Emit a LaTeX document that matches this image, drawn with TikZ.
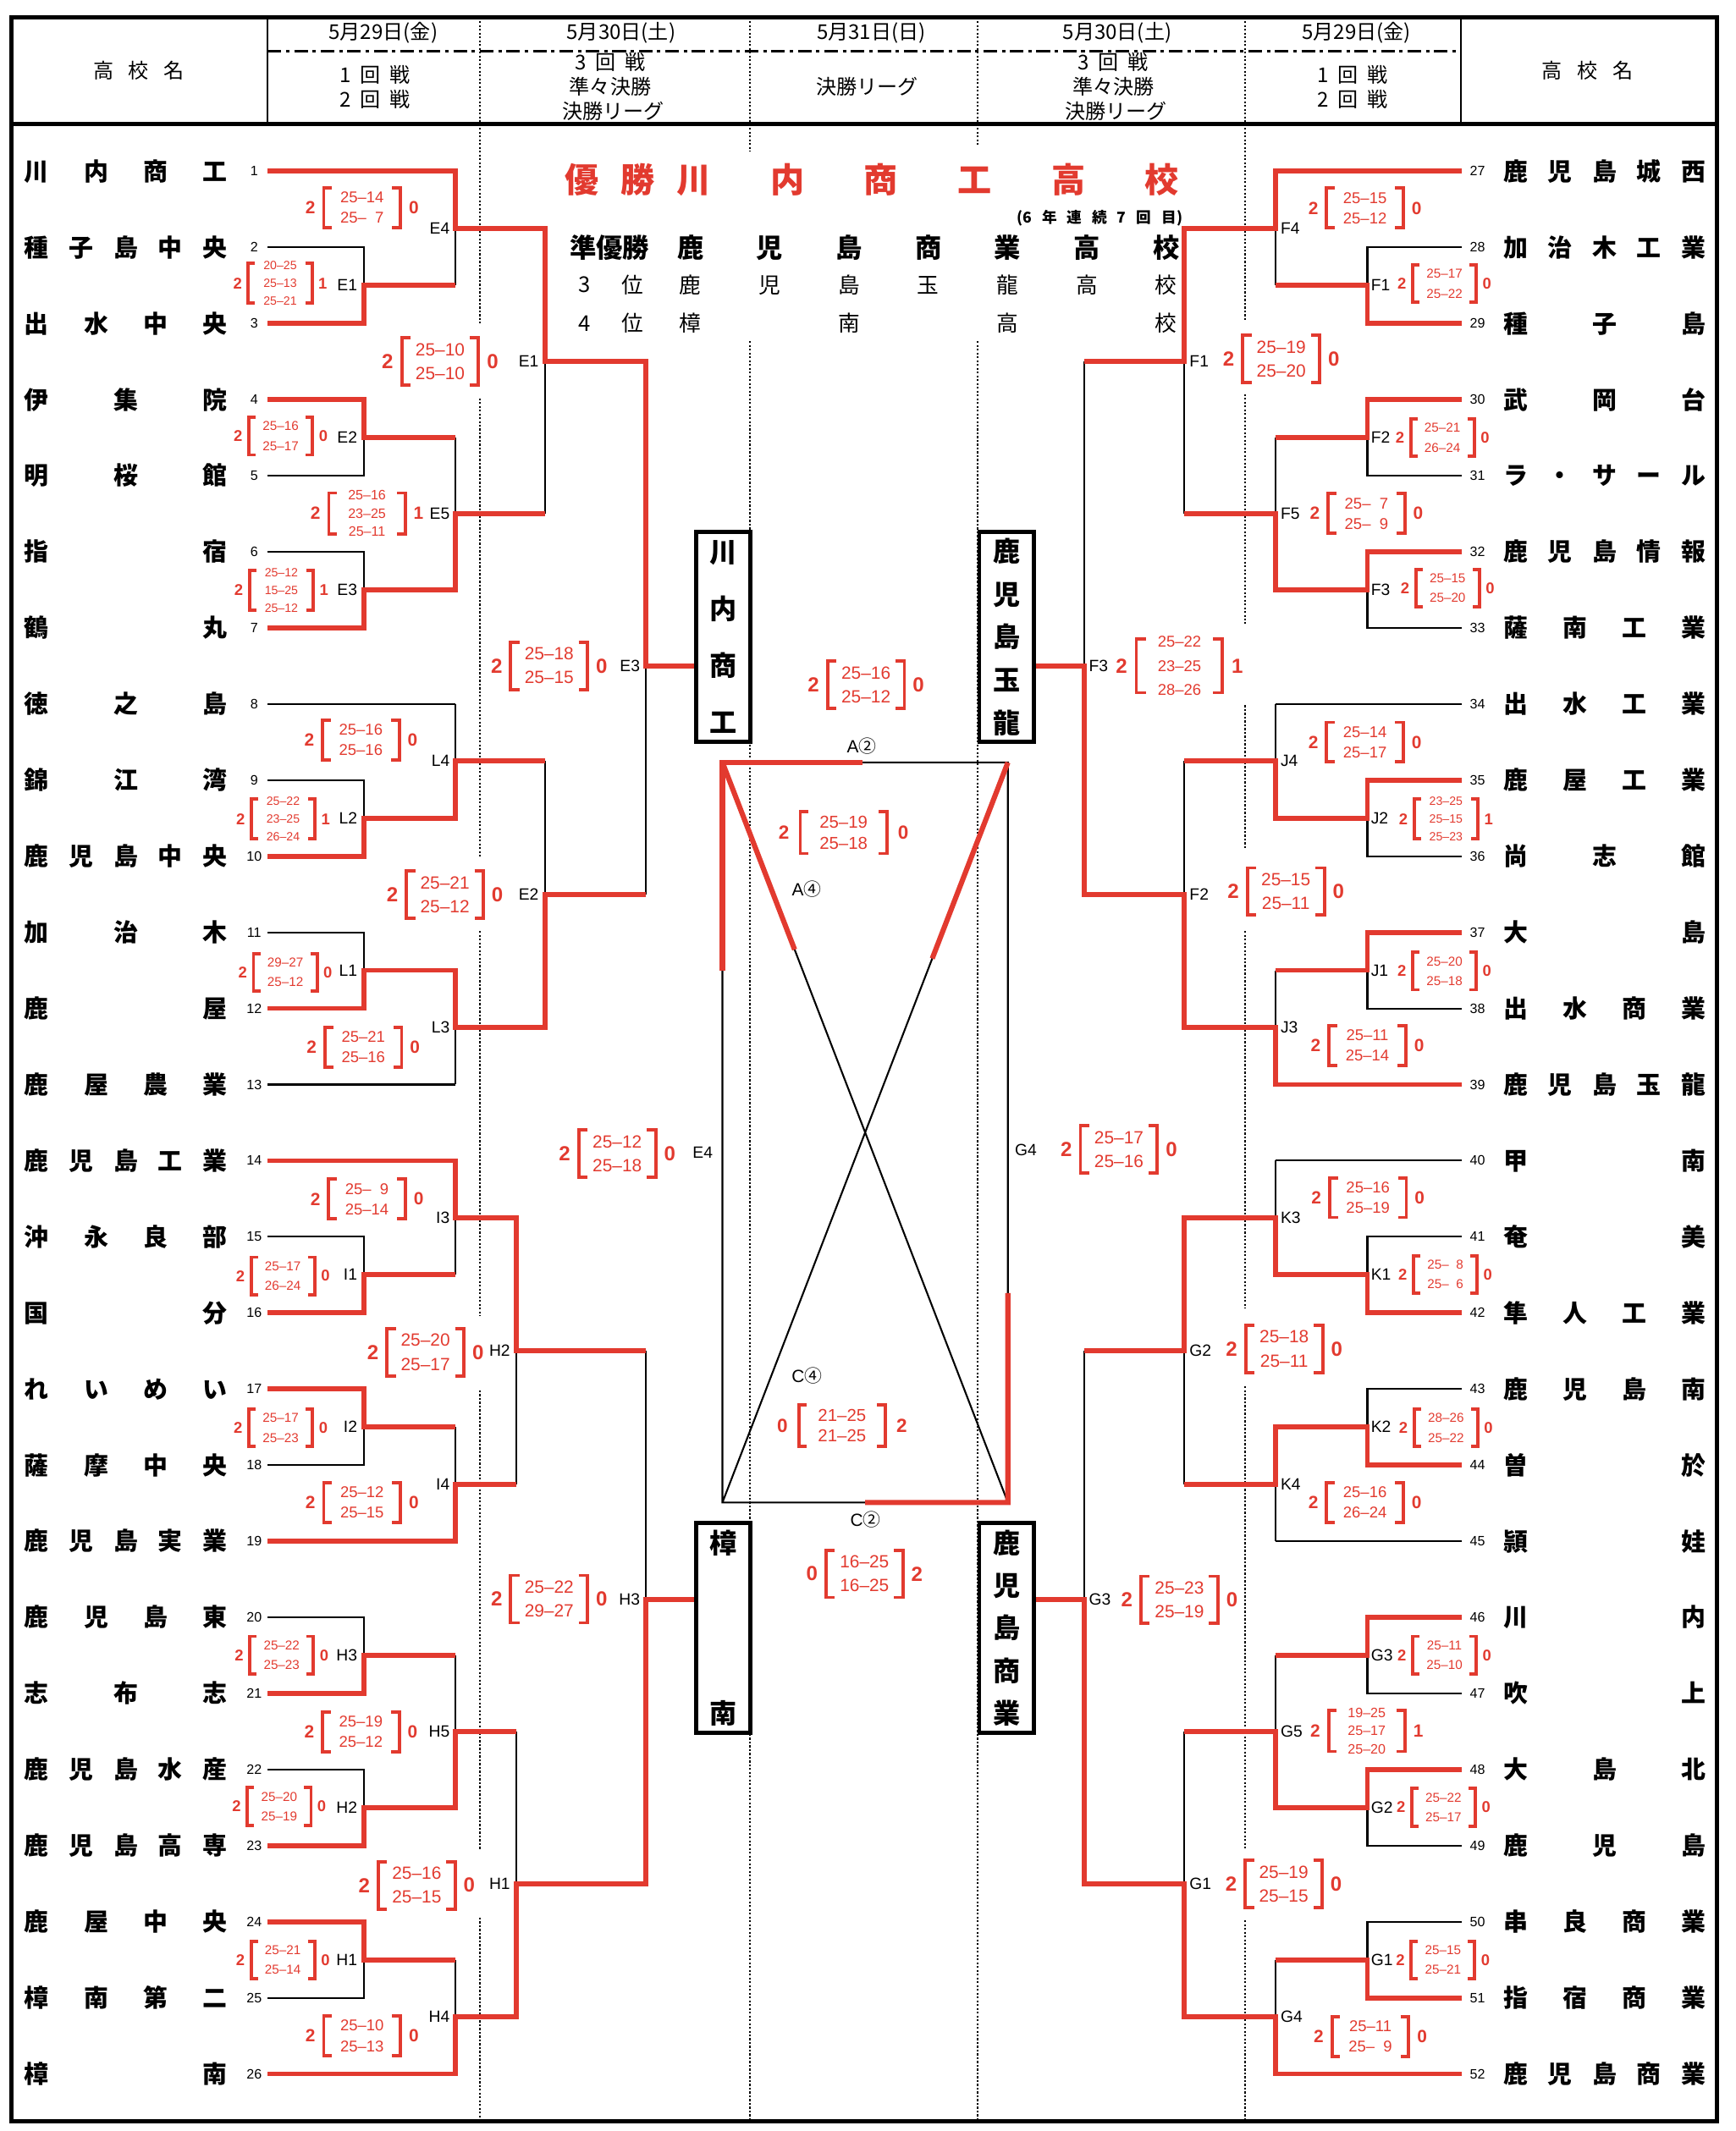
\documentclass[tikz,border=0pt]{standalone}
\usepackage{fontspec}
\setmainfont{Noto Sans CJK JP}
\newfontfamily\lat{Liberation Sans}
\usepackage{xcolor}
\definecolor{brRed}{HTML}{E23A2F}
\usetikzlibrary{positioning,calc}

\tikzset{
  brh/.store in=\brh, brw/.store in=\brw, brh=15, brw=6,
  brk/.style={draw=brRed, line width=2.4pt},
  scbase/.style={text=brRed, align=center, inner ysep=0pt},
  nmbase/.style={text=brRed, inner sep=0pt},
  sctiny/.style={brh=14.6, brw=5,
    sctext/.style={scbase, inner xsep=11pt, font=\lat\fontsize{8.8}{13}\selectfont},
    scnum/.style={nmbase, node distance=4.5pt, font=\lat\bfseries\fontsize{11.5}{11.5}\selectfont}},
  scsmall/.style={brh=13.8, brw=5,
    sctext/.style={scbase, inner xsep=10pt, font=\lat\fontsize{9.5}{14.5}\selectfont},
    scnum/.style={nmbase, node distance=4.5pt, font=\lat\bfseries\fontsize{11.5}{11.5}\selectfont}},
  scmidt/.style={brh=15.1, brw=6,
    sctext/.style={scbase, inner xsep=14pt, font=\lat\fontsize{10}{13.3}\selectfont},
    scnum/.style={nmbase, node distance=6pt, font=\lat\bfseries\fontsize{13}{13}\selectfont}},
  scmid/.style={brh=14.6, brw=6,
    sctext/.style={scbase, inner xsep=12pt, font=\lat\fontsize{11.5}{15}\selectfont},
    scnum/.style={nmbase, node distance=6pt, font=\lat\bfseries\fontsize{13}{13}\selectfont}},
  scbig/.style={brh=17.4, brw=6.5,
    sctext/.style={scbase, inner xsep=10pt, font=\lat\fontsize{13}{17.5}\selectfont},
    scnum/.style={nmbase, node distance=6pt, font=\lat\bfseries\fontsize{15}{15}\selectfont}},
  scqf/.style={brh=19.8, brw=7,
    sctext/.style={scbase, inner xsep=15.5pt, font=\lat\fontsize{11.5}{18}\selectfont},
    scnum/.style={nmbase, node distance=6.5pt, font=\lat\bfseries\fontsize{15}{15}\selectfont}},
  scx/.style={brh=15.3, brw=6,
    sctext/.style={scbase, inner xsep=14pt, font=\lat\fontsize{12.7}{15.4}\selectfont},
    scnum/.style={nmbase, node distance=8pt, font=\lat\bfseries\fontsize{14}{14}\selectfont}},
}

% score block: size, name, position, left sets, lines, right sets
\newcommand{\score}[6]{%
  \begin{scope}[#1]
    \node[sctext] (#2) at (#3) {#5};
    \draw[brk] ($(#2.west)+(\brw,-\brh)$) -- ($(#2.west)+(0,-\brh)$) -- ($(#2.west)+(0,\brh)$) -- ($(#2.west)+(\brw,\brh)$);
    \draw[brk] ($(#2.east)+(-\brw,-\brh)$) -- ($(#2.east)+(0,-\brh)$) -- ($(#2.east)+(0,\brh)$) -- ($(#2.east)+(-\brw,\brh)$);
    \node[scnum, left=of #2] (#2-l) {#4};
    \node[scnum, right=of #2] (#2-r) {#6};
  \end{scope}}

\begin{document}
\begin{tikzpicture}[x=1pt, y=-1pt,
    ln/.style={line width=1.3pt},
    win/.style={line width=3.6pt, brRed, line join=miter},
    frame/.style={line width=3pt},
    dotv/.style={line width=1.4pt, dash pattern=on 1.4pt off 1.4pt},
    dashdot/.style={line width=1.6pt, dash pattern=on 10pt off 3.5pt on 2.5pt off 3.5pt},
    hd/.style={font=\fontsize{15}{15}\selectfont, inner sep=0pt},
    team/.style={font=\bfseries\fontsize{18}{18}\selectfont, inner sep=0pt},
    tno/.style={font=\lat\fontsize{10}{10}\selectfont, inner sep=0pt},
    mlab/.style={font=\lat\fontsize{12}{12}\selectfont, inner sep=0pt},
    fbox/.style={draw, fill=white, line width=3pt, minimum width=40pt, minimum height=154.7pt, inner sep=0pt, align=center}
  ]
  \useasboundingbox (0,0) rectangle (1277,1568);

  % dotted day separators
  \foreach \x/\ya/\yb in {353/12.9/238, 353/293/630, 353/685/968, 353/1023/1361, 353/1411/1561,
      916/12.9/236, 916/290/458.7, 916/519/625, 916/685/963, 916/1020/1360, 916/1413/1561,
      551.5/12.9/111, 551.5/251/1561, 719/12.9/108, 719/251/1561}
    \draw[dotv] (\x,\ya) -- (\x,\yb);

  % frame and header
  \draw[frame] (8.2,12.9) rectangle (1263,1561);
  \draw[frame] (8.2,91.3) -- (1263,91.3);
  \draw[ln] (197,12.9) -- (197,91.3) (1075,12.9) -- (1075,91.3);
  \draw[dashdot] (197,37.8) -- (1075,37.8);
  \node[hd] (hNameL) at (102,52) {\makebox[67pt][s]{高 校 名}};
  \node[hd] (hNameR) at (1168,52) {\makebox[67pt][s]{高 校 名}};
  \node[hd] (hD1) at (282,24) {5月29日(金)};
  \node[hd] (hD2) at (457,24) {5月30日(土)};
  \node[hd] (hD3) at (641,24) {5月31日(日)};
  \node[hd] (hD4) at (822,24) {5月30日(土)};
  \node[hd] (hD5) at (998,24) {5月29日(金)};
  \node[hd] (hR1a) at (276,55) {\makebox[52pt][s]{1 回 戦}};
  \node[hd] (hR1b) at (276,73) {\makebox[52pt][s]{2 回 戦}};
  \node[hd] (hR2a) at (449,46) {\makebox[52pt][s]{3 回 戦}};
  \node[hd] (hR2b) at (449,64) {準々決勝};
  \node[hd] (hR2c) at (451,82) {決勝リーグ};
  \node[hd] (hR3) at (638,64) {決勝リーグ};
  \node[hd] (hR4a) at (819,46) {\makebox[52pt][s]{3 回 戦}};
  \node[hd] (hR4b) at (819,64) {準々決勝};
  \node[hd] (hR4c) at (821,82) {決勝リーグ};
  \node[hd] (hR5a) at (995,55) {\makebox[52pt][s]{1 回 戦}};
  \node[hd] (hR5b) at (995,73) {\makebox[52pt][s]{2 回 戦}};

  % teams
  \foreach \nm [count=\i] in {川 内 商 工, 種 子 島 中 央, 出 水 中 央, 伊 集 院, 明 桜 館, 指 宿, 鶴 丸,
      徳 之 島, 錦 江 湾, 鹿 児 島 中 央, 加 治 木, 鹿 屋, 鹿 屋 農 業, 鹿 児 島 工 業, 沖 永 良 部, 国 分,
      れ い め い, 薩 摩 中 央, 鹿 児 島 実 業, 鹿 児 島 東, 志 布 志, 鹿 児 島 水 産, 鹿 児 島 高 専,
      鹿 屋 中 央, 樟 南 第 二, 樟 南} {
    \node[team] (tl\i) at (92.5,{126+56*(\i-1)}) {\makebox[149pt][s]{\nm}};
    \node[tno] (nl\i) at (187,{126+56*(\i-1)}) {\i};
  }
  \foreach \nm [count=\i from 27] in {鹿 児 島 城 西, 加 治 木 工 業, 種 子 島, 武 岡 台, ラ ・ サ ー ル,
      鹿 児 島 情 報, 薩 南 工 業, 出 水 工 業, 鹿 屋 工 業, 尚 志 館, 大 島, 出 水 商 業, 鹿 児 島 玉 龍,
      甲 南, 奄 美, 隼 人 工 業, 鹿 児 島 南, 曽 於, 頴 娃, 川 内, 吹 上, 大 島 北, 鹿 児 島,
      串 良 商 業, 指 宿 商 業, 鹿 児 島 商 業} {
    \node[team] (tr\i) at (1180.5,{126+56*(\i-27)}) {\makebox[149pt][s]{\nm}};
    \node[tno] (nr\i) at (1087,{126+56*(\i-27)}) {\i};
  }

  % bracket lines, left half
  \foreach \t in {1,8,13,14,19,26}
    \draw[ln] (197,{126+56*(\t-1)}) -- (335,{126+56*(\t-1)});
  \foreach \t in {2,4,6,9,11,15,17,20,22,24} {
    \pgfmathsetmacro\ya{126+56*(\t-1)}
    \draw[ln] (197,\ya) -- (268,\ya) -- (268,{\ya+56}) -- (197,{\ya+56});
    \draw[ln] (268,{\ya+28}) -- (335,{\ya+28});
  }
  \foreach \ya/\yb/\x in {126/210/401, 322/434/401, 518/602/401, 714/798/401,
      854/938/380, 1050/1134/380, 1218/1330/380, 1442/1526/380} {
    \draw[ln] (335,\ya) -- (335,\yb);
    \draw[ln] (335,{(\ya+\yb)/2}) -- (\x,{(\ya+\yb)/2});
  }
  \foreach \x/\ya/\yb/\ym in {401/168/378/266, 401/560/756/658, 380/896/1092/994, 380/1274/1484/1386} {
    \draw[ln] (\x,\ya) -- (\x,\yb);
    \draw[ln] (\x,\ym) -- (475,\ym);
  }
  \draw[ln] (475,266) -- (475,658) (475,490) -- (512,490);
  \draw[ln] (475,994) -- (475,1386) (475,1177) -- (512,1177);

  % bracket lines, right half
  \foreach \t in {27,34,39,40,45,52}
    \draw[ln] (1075.6,{126+56*(\t-27)}) -- (938.6,{126+56*(\t-27)});
  \foreach \t in {28,30,32,35,37,41,43,46,48,50} {
    \pgfmathsetmacro\ya{126+56*(\t-27)}
    \draw[ln] (1075.6,\ya) -- (1006,\ya) -- (1006,{\ya+56}) -- (1075.6,{\ya+56});
    \draw[ln] (1006,{\ya+28}) -- (938.6,{\ya+28});
  }
  \foreach \ya/\yb in {126/210, 322/434, 518/602, 714/798, 854/938, 1050/1134, 1218/1330, 1442/1526} {
    \draw[ln] (938.6,\ya) -- (938.6,\yb);
    \draw[ln] (938.6,{(\ya+\yb)/2}) -- (871.4,{(\ya+\yb)/2});
  }
  \foreach \ya/\yb/\ym in {168/378/266, 560/756/658, 896/1092/994, 1274/1484/1386} {
    \draw[ln] (871.4,\ya) -- (871.4,\yb);
    \draw[ln] (871.4,\ym) -- (797.6,\ym);
  }
  \draw[ln] (797.6,266) -- (797.6,658) (797.6,490) -- (761,490);
  \draw[ln] (797.6,994) -- (797.6,1386) (797.6,1177) -- (761,1177);

  % winners, left
  \draw[win] (197,126) -- (335,126) -- (335,168) -- (401,168) -- (401,266) -- (475,266) -- (475,490) -- (512,490);
  \draw[win] (197,238) -- (268,238) -- (268,210) -- (335,210);
  \draw[win] (197,294) -- (268,294) -- (268,322) -- (335,322);
  \draw[win] (197,462) -- (268,462) -- (268,434) -- (335,434) -- (335,378) -- (401,378);
  \draw[win] (197,630) -- (268,630) -- (268,602) -- (335,602) -- (335,560) -- (401,560);
  \draw[win] (197,742) -- (268,742) -- (268,714) -- (335,714) -- (335,756) -- (401,756) -- (401,658) -- (475,658);
  \draw[win] (197,854) -- (335,854) -- (335,896) -- (380,896) -- (380,994) -- (475,994);
  \draw[win] (197,966) -- (268,966) -- (268,938) -- (335,938);
  \draw[win] (197,1022) -- (268,1022) -- (268,1050) -- (335,1050);
  \draw[win] (197,1134) -- (335,1134) -- (335,1092) -- (380,1092);
  \draw[win] (197,1246) -- (268,1246) -- (268,1218) -- (335,1218);
  \draw[win] (197,1358) -- (268,1358) -- (268,1330) -- (335,1330) -- (335,1274) -- (380,1274);
  \draw[win] (197,1414) -- (268,1414) -- (268,1442) -- (335,1442);
  \draw[win] (197,1526) -- (335,1526) -- (335,1484) -- (380,1484) -- (380,1386) -- (475,1386) -- (475,1177) -- (512,1177);

  % winners, right
  \draw[win] (1075.6,126) -- (938.6,126) -- (938.6,168) -- (871.4,168) -- (871.4,266) -- (797.6,266);
  \draw[win] (1075.6,238) -- (1006,238) -- (1006,210) -- (938.6,210);
  \draw[win] (1075.6,294) -- (1006,294) -- (1006,322) -- (938.6,322);
  \draw[win] (1075.6,406) -- (1006,406) -- (1006,434) -- (938.6,434) -- (938.6,378) -- (871.4,378);
  \draw[win] (1075.6,574) -- (1006,574) -- (1006,602) -- (938.6,602) -- (938.6,560) -- (871.4,560);
  \draw[win] (1075.6,686) -- (1006,686) -- (1006,714) -- (938.6,714);
  \draw[win] (1075.6,798) -- (938.6,798) -- (938.6,756) -- (871.4,756) -- (871.4,658) -- (797.6,658) -- (797.6,490) -- (761,490);
  \draw[win] (1075.6,966) -- (1006,966) -- (1006,938) -- (938.6,938) -- (938.6,896) -- (871.4,896) -- (871.4,994) -- (797.6,994);
  \draw[win] (1075.6,1078) -- (1006,1078) -- (1006,1050) -- (938.6,1050) -- (938.6,1092) -- (871.4,1092);
  \draw[win] (1075.6,1190) -- (1006,1190) -- (1006,1218) -- (938.6,1218);
  \draw[win] (1075.6,1302) -- (1006,1302) -- (1006,1330) -- (938.6,1330) -- (938.6,1274) -- (871.4,1274);
  \draw[win] (1075.6,1470) -- (1006,1470) -- (1006,1442) -- (938.6,1442);
  \draw[win] (1075.6,1526) -- (938.6,1526) -- (938.6,1484) -- (871.4,1484) -- (871.4,1386) -- (797.6,1386) -- (797.6,1177) -- (761,1177);

  % final league
  \node[fbox, font=\bfseries\fontsize{20}{41.7}\selectfont] (fSendai) at (532,468.7) {川\\内\\商\\工};
  \node[fbox, font=\bfseries\fontsize{20}{31.7}\selectfont] (fGyokuryu) at (740.5,468.7) {鹿\\児\\島\\玉\\龍};
  \node[fbox, font=\bfseries\fontsize{20}{125}\selectfont] (fShonan) at (532,1197.9) {樟\\南};
  \node[fbox, font=\bfseries\fontsize{20}{31.25}\selectfont] (fKashou) at (740.5,1197.9) {鹿\\児\\島\\商\\業};
  \coordinate (TL) at (531.5,561);
  \coordinate (TR) at (741.5,561);
  \coordinate (BL) at (531.5,1105.5);
  \coordinate (BR) at (741.5,1105.5);
  \draw[ln] (TL) rectangle (BR) (TL) -- (BR) (TR) -- (BL);
  \draw[win, line width=3.8pt] ($(TL)!0.49!(TR)$) -- (TL) -- ($(TL)!0.281!(BL)$);
  \draw[win, line width=3.8pt] (TL) -- ($(TL)!0.253!(BR)$);
  \draw[win, line width=3.8pt] (TR) -- ($(TR)!0.265!(BL)$);
  \draw[win, line width=3.8pt] ($(TR)!0.717!(BR)$) -- (BR) -- ($(BR)!0.5!(BL)$);
  \node[mlab, font=\lat\fontsize{13}{13}\selectfont] (lbA2) at (634,548.7) {A{\normalfont ②}};
  \node[mlab, font=\lat\fontsize{13}{13}\selectfont] (lbA4) at (593.5,654.4) {A{\normalfont ④}};
  \node[mlab, font=\lat\fontsize{13}{13}\selectfont] (lbC4) at (593.6,1012.5) {C{\normalfont ④}};
  \node[mlab, font=\lat\fontsize{13}{13}\selectfont] (lbC2) at (636.8,1117.9) {C{\normalfont ②}};

  % result lines
  \node[font=\bfseries\fontsize{25}{25}\selectfont, text=brRed, inner sep=0pt] (win1a) at (448.5,132) {\makebox[66pt][s]{優 勝}};
  \node[font=\bfseries\fontsize{25}{25}\selectfont, text=brRed, inner sep=0pt] (win1b) at (682.7,132) {\makebox[369.2pt][s]{川 内 商 工 高 校}};
  \node[font=\bfseries\fontsize{11}{11}\selectfont, inner sep=0pt] (win1c) at (809,160.5) {\makebox[122pt][s]{(6 年 連 続 7 回 目)}};
  \node[font=\bfseries\fontsize{19.5}{19.5}\selectfont, inner sep=0pt] (win2a) at (448.5,182) {準優勝};
  \node[font=\bfseries\fontsize{19.5}{19.5}\selectfont, inner sep=0pt] (win2b) at (683,182) {\makebox[369.5pt][s]{鹿 児 島 商 業 高 校}};
  \node[font=\fontsize{16}{16}\selectfont, inner sep=0pt] (win3a) at (430,209.6) {3};
  \node[font=\fontsize{16}{16}\selectfont, inner sep=0pt] (win3b) at (465.6,209.6) {位};
  \node[font=\fontsize{16}{16}\selectfont, inner sep=0pt] (win3c) at (683,209.6) {\makebox[366pt][s]{鹿 児 島 玉 龍 高 校}};
  \node[font=\fontsize{16}{16}\selectfont, inner sep=0pt] (win4a) at (430,237.8) {4};
  \node[font=\fontsize{16}{16}\selectfont, inner sep=0pt] (win4b) at (465.6,237.8) {位};
  \node[font=\fontsize{16}{16}\selectfont, inner sep=0pt] (win4c) at (683,237.8) {\makebox[366pt][s]{樟 南 高 校}};

  % match labels
  \foreach \nm/\t/\x/\y in {mlE4a/E4/331/168, mlE1a/E1/263/210, mlE1b/E1/396.5/266, mlE2a/E2/263/322,
      mlE5/E5/331/378, mlE3a/E3/263/434, mlE3b/E3/471/490, mlL4/L4/331/560, mlL2/L2/263/602,
      mlE2b/E2/396.5/658, mlL1/L1/263/714, mlL3/L3/331/756, mlE4b/E4/524.5/848, mlI3/I3/331/896,
      mlI1/I1/263/938, mlH2b/H2/375.5/994, mlI2/I2/263/1050, mlI4/I4/331/1092, mlH3b/H3/471/1177,
      mlH3a/H3/263/1218, mlH5/H5/331/1274, mlH2a/H2/263/1330, mlH1b/H1/375.5/1386,
      mlH1a/H1/263/1442, mlH4/H4/331/1484}
    \node[mlab, anchor=east] (\nm) at (\x,\y) {\t};
  \foreach \nm/\t/\x/\y in {mrF4/F4/942/168, mrF1a/F1/1008.5/210, mrF1b/F1/875/266, mrF2a/F2/1008.5/322,
      mrF5/F5/942/378, mrF3a/F3/1008.5/434, mrF3b/F3/801/490, mrJ4/J4/942/560, mrJ2/J2/1008.5/602,
      mrF2b/F2/875/658, mrJ1/J1/1008.5/714, mrJ3/J3/942/756, mrG4b/G4/746.5/846, mrK3/K3/942/896,
      mrK1/K1/1008.5/938, mrG2b/G2/875/994, mrK2/K2/1008.5/1050, mrK4/K4/942/1092, mrG3b/G3/801/1177,
      mrG3a/G3/1008.5/1218, mrG5/G5/942/1274, mrG2a/G2/1008.5/1330, mrG1b/G1/875/1386,
      mrG1a/G1/1008.5/1442, mrG4a/G4/942/1484}
    \node[mlab, anchor=west] (\nm) at (\x,\y) {\t};

  % scores, left
  \score{scmid}{lE4r2}{266.4,152.8}{2}{25–14\\25–\hphantom{0}7}{0}
  \score{sctiny}{lE1r1}{206.1,208.4}{2}{20–25\\25–13\\25–21}{1}
  \score{scbig}{lE1r3}{323.8,266}{2}{25–10\\25–10}{0}
  \score{scsmall}{lE2r1}{206.5,320.9}{2}{25–16\\25–17}{0}
  \score{scmidt}{lE5r2}{270,377.8}{2}{25–16\\23–25\\25–11}{1}
  \score{sctiny}{lE3r1}{207,434.3}{2}{25–12\\15–25\\25–12}{1}
  \score{scbig}{lE3qf}{404,489.9}{2}{25–18\\25–15}{0}
  \score{scmid}{lL4r2}{265.5,544.5}{2}{25–16\\25–16}{0}
  \score{sctiny}{lL2r1}{208.3,602.6}{2}{25–22\\23–25\\26–24}{1}
  \score{scbig}{lE2r3}{327.3,658.2}{2}{25–21\\25–12}{0}
  \score{scsmall}{lL1r1}{209.9,715.4}{2}{29–27\\25–12}{0}
  \score{scmid}{lL3r2}{267.3,770.4}{2}{25–21\\25–16}{0}
  \score{scbig}{lE4f}{454.1,848.8}{2}{25–12\\25–18}{0}
  \score{scmid}{lI3r2}{270,882.2}{2}{25–\hphantom{0}9\\25–14}{0}
  \score{scsmall}{lI1r1}{208.1,938.8}{2}{25–17\\26–24}{0}
  \score{scbig}{lH2r3}{313,995}{2}{25–20\\25–17}{0}
  \score{scsmall}{lI2r1}{206.5,1050.6}{2}{25–17\\25–23}{0}
  \score{scmid}{lI4r2}{266.4,1105.5}{2}{25–12\\25–15}{0}
  \score{scbig}{lH3qf}{404,1176.6}{2}{25–22\\29–27}{0}
  \score{scsmall}{lH3r1}{207.2,1217.8}{2}{25–22\\25–23}{0}
  \score{scmid}{lH5r2}{265.5,1274.2}{2}{25–19\\25–12}{0}
  \score{scsmall}{lH2r1}{205.4,1329.2}{2}{25–20\\25–19}{0}
  \score{scbig}{lH1r3}{306.6,1387.2}{2}{25–16\\25–15}{0}
  \score{scsmall}{lH1r1}{208.1,1442.1}{2}{25–21\\25–14}{0}
  \score{scmid}{lH4r2}{266.4,1498}{2}{25–10\\25–13}{0}

  % scores, right
  \score{scmid}{rF4r2}{1004.2,153.1}{2}{25–15\\25–12}{0}
  \score{scsmall}{rF1r1}{1062.7,208.7}{2}{25–17\\25–22}{0}
  \score{scbig}{rF1r3}{942.6,264}{2}{25–19\\25–20}{0}
  \score{scsmall}{rF2r1}{1061.2,322.1}{2}{25–21\\26–24}{0}
  \score{scmid}{rF5r2}{1005.3,377.8}{2}{25–\hphantom{0}7\\25–\hphantom{0}9}{0}
  \score{scsmall}{rF3r1}{1065,432.7}{2}{25–15\\25–20}{0}
  \score{scqf}{rF3qf}{867.7,489.9}{2}{25–22\\23–25\\28–26}{1}
  \score{scmid}{rJ4r2}{1004.2,546.1}{2}{25–14\\25–17}{0}
  \score{sctiny}{rJ2r1}{1063.8,602.6}{2}{23–25\\25–15\\25–23}{1}
  \score{scbig}{rF2r3}{946,656}{2}{25–15\\25–11}{0}
  \score{scsmall}{rJ1r1}{1062.7,714.5}{2}{25–20\\25–18}{0}
  \score{scmid}{rJ3r2}{1006,769.4}{2}{25–11\\25–14}{0}
  \score{scbig}{rG4f}{823.2,845.7}{2}{25–17\\25–16}{0}
  \score{scmid}{rK3r2}{1006.4,881.2}{2}{25–16\\25–19}{0}
  \score{scsmall}{rK1r1}{1063.3,937.8}{2}{25–\hphantom{0}8\\25–\hphantom{0}6}{0}
  \score{scbig}{rG2r3}{944.8,992.5}{2}{25–18\\25–11}{0}
  \score{scsmall}{rK2r1}{1063.8,1050.6}{2}{28–26\\25–22}{0}
  \score{scmid}{rK4r2}{1004.2,1105.5}{2}{25–16\\26–24}{0}
  \score{scbig}{rG3qf}{867.7,1177.2}{2}{25–23\\25–19}{0}
  \score{scsmall}{rG3r1}{1062.7,1217.8}{2}{25–11\\25–10}{0}
  \score{scmidt}{rG5r2}{1005.5,1273.6}{2}{19–25\\25–17\\25–20}{1}
  \score{scsmall}{rG2r1}{1062,1329.8}{2}{25–22\\25–17}{0}
  \score{scbig}{rG1r3}{944.4,1386.3}{2}{25–19\\25–15}{0}
  \score{scsmall}{rG1r1}{1061.6,1442.1}{2}{25–15\\25–21}{0}
  \score{scmid}{rG4r2}{1008.2,1498.6}{2}{25–11\\25–\hphantom{0}9}{0}

  % scores, final league
  \score{scbig}{cA2}{637.1,503.9}{2}{25–16\\25–12}{0}
  \score{scx}{cA4}{620.6,612.7}{2}{25–19\\25–18}{0}
  \score{scx}{cC4}{619.5,1049}{0}{21–25\\21–25}{2}
  \score{scbig}{cC2}{636,1158}{0}{16–25\\16–25}{2}
\end{tikzpicture}
\end{document}
